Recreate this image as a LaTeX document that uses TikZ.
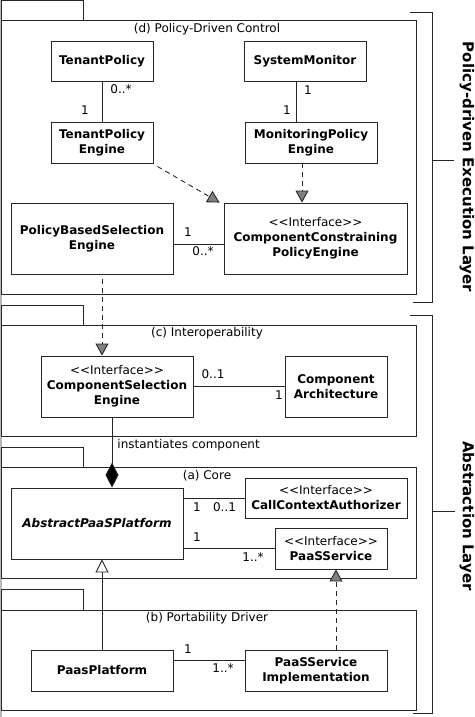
\documentclass[tikz,border=0pt]{standalone}
\usepackage{fontspec}
\setmainfont{DejaVu Sans}
\usetikzlibrary{arrows.meta,positioning}

\tikzset{
	cls/.style={draw=black!85, line width=0.9pt, fill=white, align=center, inner sep=1pt,
		font=\fontsize{12}{15}\selectfont\bfseries},
	sz/.style 2 args={minimum width=#1, minimum height=#2},
	pkg/.style={draw=black!85, line width=0.9pt},
	pkgname/.style={font=\fontsize{12}{15}\selectfont, inner sep=0pt},
	mult/.style={font=\fontsize{12}{15}\selectfont, inner sep=0pt},
	assoc/.style={draw=black!85, line width=0.9pt},
	realize/.style={assoc, dash pattern=on 5pt off 4pt, -{Triangle[fill=gray, length=12pt, width=13pt]}},
	generalize/.style={assoc, -{Triangle[open, fill=white, length=13pt, width=13pt]}},
	compose/.style={assoc, -{Diamond[fill=black, length=25pt, width=13pt]}},
	layer/.style={font=\fontsize{15}{18}\selectfont\bfseries, rotate=-90, inner sep=0pt},
}
\newcommand{\stereo}{{\mdseries <{}<Interface>{}>}\\}

\begin{document}
\begin{tikzpicture}[x=1pt, y=-1pt]
		\useasboundingbox (0,0) rectangle (474,717);
		\draw[gray!55, line width=2pt] (1,0) -- (1,717);

		% packages
		\draw[pkg] (1,20) rectangle (416,294) (1,20) -- (1,0.5) -- (83,0.5) -- (83,20);
		\draw[pkg] (1,325) rectangle (416,436) (1,325) -- (1,305) -- (83,305) -- (83,325);
		\draw[pkg] (1,467) rectangle (416,578) (1,467) -- (1,447) -- (83,447) -- (83,467);
		\draw[pkg] (1,610) rectangle (416,710) (1,610) -- (1,589) -- (83,589) -- (83,610);
		\node[pkgname] (pd) at (207,29) {(d) Policy-Driven Control};
		\node[pkgname] (pc) at (207,333) {(c) Interoperability};
		\node[pkgname] (pa) at (207,476) {(a) Core};
		\node[pkgname] (pb) at (207,618) {(b) Portability Driver};

		% layers
		\draw[assoc] (410,12) -| (432,302) -- (413,302) (432,160) -- (454,160);
		\draw[assoc] (410,315) -| (432,713) -- (413,713) (432,511) -- (455,511);
		\node[layer] (lpol) at (467,167) {Policy-driven Execution Layer};
		\node[layer] (labs) at (467,516) {Abstraction Layer};

		% classes
		\node[cls, sz={102pt}{40pt}] (tenant) at (102,61) {TenantPolicy};
		\node[cls, sz={102pt}{41pt}] (tenantEng) at (102,142.5) {TenantPolicy\\Engine};
		\node[cls, sz={122pt}{40pt}] (monitor) at (305,61) {SystemMonitor};
		\node[cls, sz={132pt}{41pt}] (monitorEng) at (311,142.5) {MonitoringPolicy\\Engine};
		\node[cls, sz={162pt}{71pt}] (pbse) at (92,238.5) {PolicyBasedSelection\\Engine};
		\node[cls, sz={183pt}{71pt}] (constrEng) at (315.5,238.5) {\stereo ComponentConstraining\\PolicyEngine};
		\node[cls, sz={152pt}{61pt}] (selEng) at (117,386.5) {\stereo ComponentSelection\\Engine};
		\node[cls, sz={102pt}{61pt}] (arch) at (336,386.5) {Component\\Architecture};
		\node[cls, sz={172pt}{71pt}] (platform) at (97,523.5) {\itshape AbstractPaaSPlatform};
		\node[cls, sz={162pt}{40pt}] (authz) at (326,498) {\stereo CallContextAuthorizer};
		\node[cls, sz={112pt}{41pt}] (service) at (331,548.5) {\stereo PaaSService};
		\node[cls, sz={142pt}{41pt}] (paas) at (102,670.5) {PaasPlatform};
		\node[cls, sz={142pt}{41pt}] (serviceImpl) at (316,670.5) {PaaSService\\Implementation};

		% relations
		\draw[assoc] (tenant) -- (tenantEng);
		\draw[assoc] ([xshift=-9pt]monitor.south) -- ([xshift=-9pt]monitor.south |- monitorEng.north);
		\draw[realize] ([xshift=4pt,yshift=-3pt]tenantEng.south east) -- ([xshift=-4pt]constrEng.north west);
		\draw[realize] ([xshift=-9pt]monitorEng.south) -- ([xshift=-9pt]monitorEng.south |- constrEng.north);
		\draw[assoc] ([yshift=-5.5pt]pbse.east) -- ([yshift=-5.5pt]pbse.east -| constrEng.west);
		\draw[realize] ([xshift=10pt,yshift=-5pt]pbse.south) -- ([xshift=10pt]pbse.south |- selEng.north);
		\draw[assoc] (selEng.east) -- (selEng.east -| arch.west);
		\draw[compose] ([xshift=-5pt]selEng.south) -- ([xshift=-5pt]selEng.south |- platform.north)
			node[mult, anchor=west, pos=0.4, xshift=5pt] (inst) {instantiates component};
		\draw[assoc] (authz.west -| platform.east) -- (authz.west);
		\draw[assoc] (service.west -| platform.east) -- (service.west);
		\draw[generalize] (paas.north) -- (paas.north |- platform.south);
		\draw[realize] ([xshift=20pt]serviceImpl.north) -- ([xshift=20pt]serviceImpl.north |- service.south);
		\draw[assoc] ([yshift=10.5pt]paas.east) -- ([yshift=10.5pt]paas.east -| serviceImpl.west);

		% multiplicities
		\node[mult] (m1) at (121,89) {0..*};
		\node[mult] (m2) at (85,110) {1};
		\node[mult] (m3) at (308,90) {1};
		\node[mult] (m4) at (287,110) {1};
		\node[mult] (m5) at (188,232) {1};
		\node[mult] (m6) at (203,251) {0..*};
		\node[mult] (m7) at (213,374) {0..1};
		\node[mult] (m8) at (279,395) {1};
		\node[mult] (m9) at (197,507) {1};
		\node[mult] (m10) at (224.5,507) {0..1};
		\node[mult] (m11) at (197,537) {1};
		\node[mult] (m12) at (253,557) {1..*};
		\node[mult] (m13) at (188,649) {1};
		\node[mult] (m14) at (223,668) {1..*};
	\end{tikzpicture}
\end{document}
